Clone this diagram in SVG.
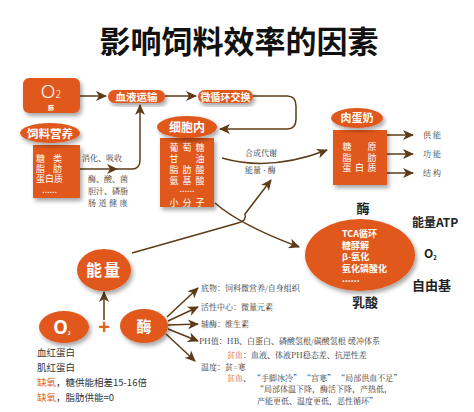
<svg xmlns="http://www.w3.org/2000/svg" width="474" height="412" viewBox="0 0 474 412">
<style>
.o{fill:#E0581F}
.w{fill:#fff;font-family:"Noto Sans CJK SC",sans-serif;font-weight:bold}
.wc{fill:#fff;font-family:"Noto Sans CJK SC",sans-serif;font-size:9px;text-anchor:middle}
.k{fill:#222;font-family:"Noto Sans CJK SC",sans-serif;font-weight:bold}
.s{fill:#333;font-family:"Noto Serif CJK SC","Noto Sans CJK SC",serif;font-size:8px}
.s2{fill:#333;font-family:"Noto Sans CJK SC",sans-serif;font-size:9.5px}
.r{fill:#E0651F}
.ln{fill:none;stroke:#5E3B17;stroke-width:1.5}
</style>
<defs>
<filter id="sh" x="-20%" y="-20%" width="150%" height="150%">
<feDropShadow dx="2" dy="3" stdDeviation="2" flood-color="#000" flood-opacity="0.35"/>
</filter>
<marker id="ah" markerUnits="userSpaceOnUse" markerWidth="12" markerHeight="10" refX="10" refY="5" orient="auto">
<path d="M0,0 L11,5 L0,10 L3,5 z" fill="#5E3B17"/>
</marker>
</defs>
<rect width="474" height="412" fill="#fff"/>
<text x="239" y="53" text-anchor="middle" font-family="Noto Sans CJK SC, sans-serif" font-weight="bold" font-size="31" fill="#111">影响饲料效率的因素</text>

<g id="connectors">
<path class="ln" d="M80,96 L106,96" marker-end="url(#ah)"/>
<path class="ln" d="M165,96 L196,96" marker-end="url(#ah)"/>
<path class="ln" d="M253,96 L287,96 Q296,96 296,106 L296,119 Q296,129 287,129 L220,129" marker-end="url(#ah)"/>
<path class="ln" d="M80,169 L117,169" marker-end="url(#ah)"/>
<path class="ln" d="M117,169 L132,169 Q140,169 140,160 L140,105" marker-end="url(#ah)"/>
<path class="ln" d="M222,158 Q270,172 327,150" marker-end="url(#ah)"/>
<path class="ln" d="M215,203 Q240,225 299,247" marker-end="url(#ah)"/>
<path class="ln" d="M132,253 L238,223 Q247,221 245,214 L271,180" marker-end="url(#ah)"/>
<path class="ln" d="M387,135 L413,135" marker-end="url(#ah)"/>
<path class="ln" d="M387,154 L413,154" marker-end="url(#ah)"/>
<path class="ln" d="M387,173 L413,173" marker-end="url(#ah)"/>
<path class="ln" d="M104,320 L104,292" marker-end="url(#ah)"/>
<path class="ln" d="M167,317 L198,288" marker-end="url(#ah)"/>
<path class="ln" d="M168,321 L198,307" marker-end="url(#ah)"/>
<path class="ln" d="M168,325 L198,324" marker-end="url(#ah)"/>
<path class="ln" d="M168,329 L198,341" marker-end="url(#ah)"/>
<path class="ln" d="M166,334 L195,361" marker-end="url(#ah)"/>
</g>

<g id="o2-lung">
<rect class="o" x="23" y="78" width="57" height="35" rx="6" filter="url(#sh)"/>
<text x="51" y="98" text-anchor="middle" fill="#fff" font-family="Noto Sans, sans-serif" font-size="19" font-weight="300">O<tspan font-size="10">2</tspan></text>
<text class="w" x="51" y="109.5" text-anchor="middle" font-size="6" font-weight="normal">肺</text>
</g>

<g id="blood">
<rect class="o" x="108" y="90" width="57" height="13" rx="6.5" filter="url(#sh)"/>
<text class="w" x="136.5" y="100.5" text-anchor="middle" font-size="10.5">血液运输</text>
</g>

<g id="micro">
<rect class="o" x="198" y="90" width="55" height="13" rx="6.5" filter="url(#sh)"/>
<text class="w" x="225.5" y="100.5" text-anchor="middle" font-size="10">微循环交换</text>
</g>

<g id="feed">
<rect class="o" x="33" y="145" width="47" height="53" filter="url(#sh)"/>
<ellipse class="o" cx="50" cy="133" rx="30" ry="10" filter="url(#sh)"/>
<text class="w" x="50" y="137.5" text-anchor="middle" font-size="11.5">饲料营养</text>
<text class="wc" x="40.5" y="162">糖</text><text class="wc" x="57.5" y="162">类</text>
<text class="wc" x="40.5" y="172">脂</text><text class="wc" x="57.5" y="172">肪</text>
<text class="wc" x="49.5" y="182">蛋白质</text>
<text class="wc" x="49.5" y="193">......</text>
</g>
<g id="digest">
<text class="s" x="82" y="161" font-size="9">消化、吸收</text>
<text class="s" x="88" y="182">酶、酸、菌</text>
<text class="s" x="88" y="194">胆汁、磷脂</text>
<text class="s" x="88" y="206" letter-spacing="2.5">肠道健康</text>
</g>

<g id="cell">
<rect class="o" x="160" y="138" width="54" height="69" filter="url(#sh)"/>
<ellipse class="o" cx="187" cy="127" rx="30" ry="11" filter="url(#sh)"/>
<text class="w" x="187" y="131.5" text-anchor="middle" font-size="12">细胞内</text>
<text class="wc" x="174" y="151">葡</text><text class="wc" x="187" y="151">萄</text><text class="wc" x="200" y="151">糖</text>
<text class="wc" x="174" y="162">甘</text><text class="wc" x="200" y="162">油</text>
<text class="wc" x="174" y="173">脂</text><text class="wc" x="187" y="173">肪</text><text class="wc" x="200" y="173">酸</text>
<text class="wc" x="174" y="183.5">氨</text><text class="wc" x="187" y="183.5">基</text><text class="wc" x="200" y="183.5">酸</text>
<text class="wc" x="187" y="192">......</text>
<text class="wc" x="174" y="206" font-size="11">小</text><text class="wc" x="187" y="206" font-size="11">分</text><text class="wc" x="200" y="206" font-size="11">子</text>
</g>

<g id="anabolism">
<text class="s" x="245" y="156" font-size="8.5">合成代谢</text>
<text class="s" x="245" y="173" font-size="8.5">能量 · 酶</text>
</g>

<g id="meat">
<rect class="o" x="333" y="130" width="54" height="55" filter="url(#sh)"/>
<ellipse class="o" cx="357" cy="118" rx="26" ry="10" filter="url(#sh)"/>
<text class="w" x="357" y="122" text-anchor="middle" font-size="11">肉蛋奶</text>
<text class="wc" x="347" y="150">糖</text><text class="wc" x="372" y="150">原</text>
<text class="wc" x="347" y="160.5">脂</text><text class="wc" x="372" y="160.5">肪</text>
<text class="wc" x="347" y="171">蛋</text><text class="wc" x="359.5" y="171">白</text><text class="wc" x="372" y="171">质</text>
</g>
<g id="outputs">
<text class="s" x="423" y="138" font-size="9" letter-spacing="2">供能</text>
<text class="s" x="423" y="157" font-size="9" letter-spacing="2">功能</text>
<text class="s" x="423" y="176" font-size="9" letter-spacing="2">结构</text>
</g>

<g id="metabolism">
<text class="k" x="363" y="213" text-anchor="middle" font-size="13">酶</text>
<ellipse class="o" cx="360" cy="255" rx="55" ry="36" filter="url(#sh)"/>
<text class="w" x="342" y="237" font-size="9" font-weight="normal">TCA循环</text>
<text class="w" x="342" y="248.5" font-size="9" font-weight="normal">糖酵解</text>
<text class="w" x="342" y="260" font-size="9" font-weight="normal">β-氧化</text>
<text class="w" x="342" y="271.5" font-size="9" font-weight="normal">氧化磷酸化</text>
<text class="w" x="342" y="281.5" font-size="9" font-weight="normal">......</text>
<text class="k" x="412" y="227" font-size="12">能量ATP</text>
<text class="k" x="424" y="258" font-size="12">O<tspan font-size="6" dy="2">2</tspan></text>
<text class="k" x="412" y="290" font-size="13">自由基</text>
<text class="k" x="352" y="307" font-size="13">乳酸</text>
</g>

<g id="energy">
<ellipse class="o" cx="104" cy="270" rx="27" ry="21" filter="url(#sh)"/>
<text class="w" x="104" y="276" text-anchor="middle" font-size="16" letter-spacing="2">能量</text>
</g>

<g id="o2">
<ellipse class="o" cx="64" cy="327" rx="25" ry="16" filter="url(#sh)"/>
<text class="w" x="62" y="334" text-anchor="middle" font-family="Liberation Sans, sans-serif" font-size="19">O<tspan font-size="5" dy="1">2</tspan></text>
</g>
<text x="104" y="334" text-anchor="middle" font-family="Liberation Sans, sans-serif" font-weight="bold" font-size="20" fill="#E0651F">+</text>

<g id="enzyme">
<ellipse class="o" cx="144" cy="326" rx="24" ry="17" filter="url(#sh)"/>
<text class="w" x="144" y="332" text-anchor="middle" font-size="15">酶</text>
</g>

<g id="o2-notes">
<text class="s2" x="37" y="356">血红蛋白</text>
<text class="s2" x="37" y="371">肌红蛋白</text>
<text class="s2" x="37" y="386"><tspan class="r">缺氧</tspan>，糖供能相差15-16倍</text>
<text class="s2" x="37" y="401"><tspan class="r">缺氧</tspan>，脂肪供能=0</text>
</g>

<g id="enzyme-notes">
<text class="s" x="201" y="291">底物：饲料微营养/自身组织</text>
<text class="s" x="201" y="310">活性中心：微量元素</text>
<text class="s" x="201" y="327">辅酶：维生素</text>
<text class="s" x="199" y="344">PH值：HB、白蛋白、磷酸氢根/碳酸氢根 缓冲体系</text>
<text class="s" x="227" y="358"><tspan class="r">贫血</tspan>：血液、体液PH稳态差、抗逆性差</text>
<text class="s" x="201" y="370">温度：贫=寒</text>
<text class="s" x="227" y="381"><tspan class="r">贫血</tspan>、 “手脚冰冷” “宫寒” “局部供血不足”</text>
<text class="s" x="256" y="392">“局部体温下降，酶活下降，产热低，</text>
<text class="s" x="257" y="404">产能更低、温度更低，恶性循环”</text>
</g>
</svg>
